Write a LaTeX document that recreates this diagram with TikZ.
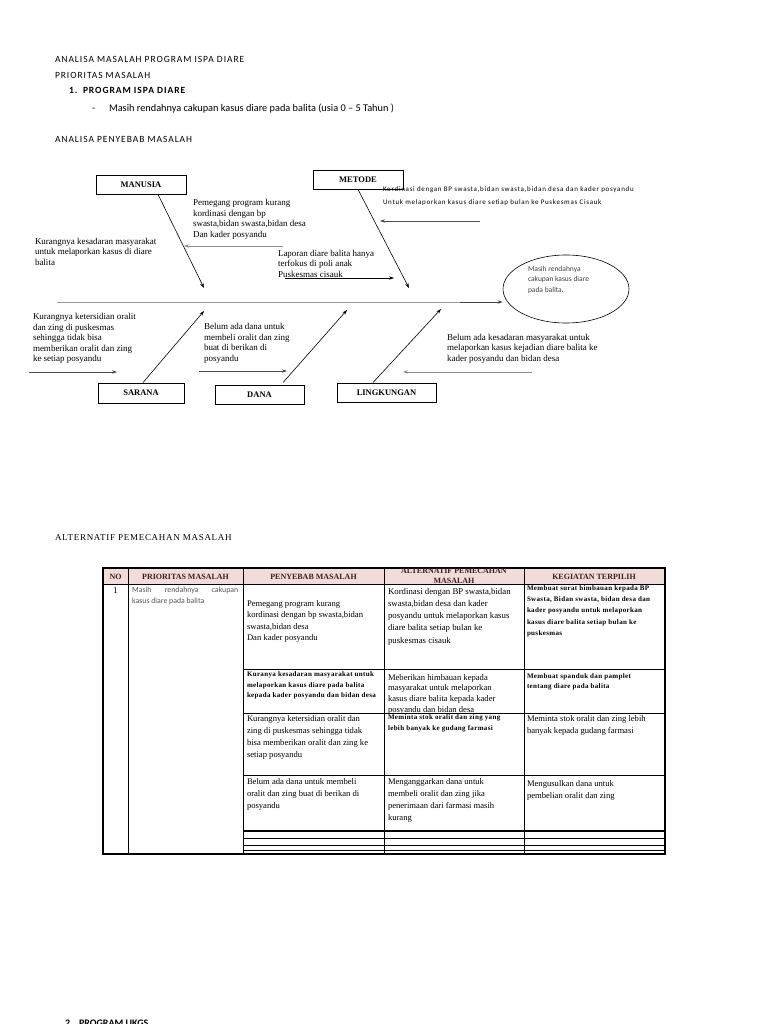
\documentclass[tikz,border=0pt]{standalone}
\usepackage{fontspec}
\setmainfont{Liberation Serif}
\newfontfamily\carl{Carlito}
\newfontfamily\carlsp[LetterSpace=10]{Carlito}
\newfontfamily\carlsmall[LetterSpace=10]{Carlito}
\newfontfamily\serifsp[LetterSpace=8]{Liberation Serif}
\newfontfamily\boldsp[LetterSpace=5]{Liberation Serif}
\usetikzlibrary{shapes.geometric,arrows.meta}
\definecolor{hdrpink}{HTML}{F2DBDB}
\definecolor{hdrtext}{HTML}{3F1D1D}
\definecolor{softgray}{HTML}{555555}
\begin{document}
\begin{tikzpicture}[x=1pt,y=-1pt,
  txt/.style={anchor=base west, inner sep=0pt, outer sep=0pt, align=left},
  txtm/.style={anchor=north west, inner sep=0pt, outer sep=0pt, align=left},
  head/.style={txt, font=\carlsp\fontsize{9.5}{11}\selectfont},
  fish/.style={txtm, font=\fontsize{9}{10.6}\selectfont},
  fbox/.style={draw, line width=0.9pt, inner sep=0pt, font=\bfseries\fontsize{8.5}{10}\selectfont},
  arr/.style={-{Stealth[length=5pt,width=3.4pt]}, line width=0.6pt},
  harr/.style={arr, draw=black!70},
  hdr/.style={inner sep=0pt, anchor=base, font=\bfseries\fontsize{8}{9.5}\selectfont, text=hdrtext, align=center},
  cell/.style={txtm, font=\fontsize{8.6}{11.4}\selectfont},
  cellb/.style={txtm, font=\boldsp\bfseries\fontsize{7}{10.8}\selectfont}]
\useasboundingbox (0,0) rectangle (768,1024);
\clip (0,0) rectangle (768,1024);
\fill[white] (0,0) rectangle (768,1024);

% ---------- headings ----------
\node[head] (t1) at (55,63) {ANALISA MASALAH PROGRAM ISPA DIARE};
\node[head] (t2) at (55,78.5) {PRIORITAS MASALAH};
\node[head, font=\carlsp\bfseries\fontsize{9.5}{11}\selectfont] (t3a) at (69,93.5) {1.};
\node[head, font=\carlsp\bfseries\fontsize{9.5}{11}\selectfont] (t3b) at (83,93.5) {PROGRAM ISPA DIARE};
\node[txt, font=\carl\fontsize{10.3}{12}\selectfont] (t4a) at (92,111.5) {-};
\node[txt, font=\carl\fontsize{10.3}{12}\selectfont] (t4b) at (109,111.5) {Masih rendahnya cakupan kasus diare pada balita (usia 0 – 5 Tahun )};
\node[head] (t5) at (55,143) {ANALISA PENYEBAB MASALAH};

% ---------- fishbone ----------
\node[txtm, font=\carlsmall\fontsize{7}{13.4}\selectfont] (kord) at (383,186.6) {Kordinasi dengan BP swasta,bidan swasta,bidan desa dan kader posyandu\\Untuk melaporkan kasus diare setiap bulan ke Puskesmas Cisauk};

\node[fbox, minimum width=90pt, minimum height=19pt] (man) at (141,184.5) {MANUSIA};
\node[fbox, minimum width=90pt, minimum height=19pt] (met) at (358,179.5) {METODE};
\node[fbox, minimum width=86pt, minimum height=20pt] (sar) at (141,393) {SARANA};
\node[fbox, minimum width=89pt, minimum height=19pt] (dana) at (259.5,394.5) {DANA};
\node[fbox, minimum width=99pt, minimum height=19pt] (ling) at (386.5,392.5) {LINGKUNGAN};

\node[draw, ellipse, line width=0.6pt, minimum width=126pt, minimum height=68pt] (eff) at (566,289) {};
\node[txtm, font=\carl\fontsize{7.5}{10.5}\selectfont, text=black!75] (efftxt) at (528,266.2) {Masih rendahnya\\cakupan kasus diare\\pada balita.};

\node[fish] (c1) at (193,199.3) {Pemegang program kurang\\kordinasi dengan bp\\swasta,bidan swasta,bidan desa\\Dan kader posyandu};
\node[fish] (c2) at (35,237.8) {Kurangnya kesadaran masyarakat\\untuk melaporkan kasus di diare\\balita};
\node[fish] (c3) at (278,249.8) {Laporan diare balita hanya\\terfokus di poli anak\\Puskesmas cisauk};
\node[fish] (c4) at (33,313.3) {Kurangnya ketersidian oralit\\dan zing di puskesmas\\sehingga tidak bisa\\memberikan oralit dan zing\\ke setiap posyandu};
\node[fish] (c5) at (204,323.3) {Belum ada dana untuk\\membeli oralit dan zing\\buat di berikan di\\posyandu};
\node[fish] (c6) at (447,333.8) {Belum ada kesadaran masyarakat untuk\\melaporkan kasus kejadian diare balita ke\\kader posyandu dan bidan desa};

% spine
\coordinate (sp0) at (57,302);
\coordinate (sp1) at (460,302);
\draw[line width=0.8pt, black!40] (sp0) -- (sp1);
\draw[arr, line width=0.8pt, black!75] (sp1) -- (sp1 -| eff.west);

% bones
\coordinate (manT) at (204,288);
\coordinate (metT) at (409,288);
\coordinate (sarT) at (204,311);
\coordinate (danaT) at (347,310);
\coordinate (lingT) at (441,309);
\draw[arr] ([xshift=17pt]man.south) -- (manT);
\draw[arr] (met.south) -- (metT);
\draw[arr] ([xshift=2pt]sar.north) -- (sarT);
\draw[arr] ([xshift=23.5pt,yshift=2pt]dana.north) -- (danaT);
\draw[arr] ([xshift=-13.5pt]ling.north) -- (lingT);

% sub-cause arrows
\coordinate (h1s) at (283,246); \coordinate (h1e) at (184,246);
\coordinate (h2s) at (480,221); \coordinate (h2e) at (380,221);
\coordinate (h3s) at (285,278); \coordinate (h3e) at (394,278);
\coordinate (h4s) at (29,372);  \coordinate (h4e) at (117,372);
\coordinate (h5s) at (199,371); \coordinate (h5e) at (287,371);
\coordinate (h6s) at (532,372); \coordinate (h6e) at (403,372);
\draw[arr, black!45] (h1s) -- (h1e);
\draw[harr] (h2s) -- (h2e);
\draw[arr] (h3s) -- (h3e);
\draw[harr] (h4s) -- (h4e);
\draw[harr] (h5s) -- (h5e);
\draw[arr, black!45] (h6s) -- (h6e);

% ---------- table ----------
\node[txt, font=\serifsp\fontsize{9}{10}\selectfont] (t6) at (55,540) {ALTERNATIF PEMECAHAN MASALAH};

\fill[hdrpink] (103,568) rectangle (665,584);
\foreach \x in {128,243,384,524} \draw[line width=0.8pt] (\x,568) -- (\x,854);
\foreach \y in {669,713,775,838,845,850} \draw[line width=0.6pt] (243,\y) -- (665,\y);
\draw[line width=1.1pt] (243,831) -- (665,831);
\draw[line width=1pt] (103,584) -- (665,584);
\draw[line width=1.2pt] (103,568) rectangle (665,854);

\node[hdr] (hd1) at (115.5,579) {NO};
\node[hdr] (hd2) at (185.5,579) {PRIORITAS MASALAH};
\node[hdr] (hd3) at (313.5,579) {PENYEBAB MASALAH};
\node[hdr, anchor=center] (hd4) at (454,576) {ALTERNATIF PEMECAHAN\\MASALAH};
\node[hdr] (hd5) at (594,579) {KEGIATAN TERPILIH};

\node[txt, font=\fontsize{9}{11}\selectfont] (no1) at (113,593) {1};
\node[anchor=base west, inner sep=0pt, text width=106pt, align=justify, font=\carl\fontsize{7.8}{10.5}\selectfont, text=softgray] (pr1) at (132,592.5) {Masih rendahnya cakupan\linebreak kasus diare pada balita};

\node[cell] (r1c3) at (247,600.6) {Pemegang program kurang\\kordinasi dengan bp swasta,bidan\\swasta,bidan desa\\Dan kader posyandu};
\node[cell, font=\fontsize{8.8}{12.3}\selectfont] (r1c4) at (388,587.9) {Kordinasi dengan BP swasta,bidan\\swasta,bidan desa dan kader\\posyandu untuk melaporkan kasus\\diare balita setiap bulan ke\\puskesmas cisauk};
\node[cellb, font=\boldsp\bfseries\fontsize{7}{11.2}\selectfont] (r1c5) at (527,585.6) {Membuat surat himbauan kepada BP\\Swasta, Bidan swasta, bidan desa dan\\kader posyandu untuk melaporkan\\kasus diare balita setiap bulan ke\\puskesmas};

\node[cellb] (r2c3) at (247,671.5) {Kuranya kesadaran masyarakat untuk\\melaporkan kasus diare pada balita\\kepada kader posyandu dan bidan desa};
\node[cell, font=\fontsize{8.6}{10.8}\selectfont] (r2c4) at (388,674.1) {Meberikan himbauan kepada\\masyarakat untuk melaporkan\\kasus diare balita kepada kader\\posyandu dan bidan desa};
\node[cellb] (r2c5) at (527,673.2) {Membuat spanduk dan pamplet\\tentang diare pada balita};

\node[cell, font=\fontsize{8.6}{12}\selectfont] (r3c3) at (247,715.6) {Kurangnya ketersidian oralit dan\\zing di puskesmas sehingga tidak\\bisa memberikan oralit dan zing ke\\setiap posyandu};
\node[cellb] (r3c4) at (388,714.5) {Meminta stok oralit dan zing yang\\lebih banyak ke gudang farmasi};
\node[cell, font=\fontsize{8.6}{12}\selectfont] (r3c5) at (527,715.1) {Meminta stok oralit dan zing lebih\\banyak kepada gudang farmasi};

\node[cell, font=\fontsize{8.6}{12}\selectfont] (r4c3) at (247,778.1) {Belum ada dana untuk membeli\\oralit dan zing buat di berikan di\\posyandu};
\node[cell, font=\fontsize{8.6}{12}\selectfont] (r4c4) at (388,778.1) {Menganggarkan dana untuk\\membeli oralit dan zing jika\\penerimaan dari farmasi masih\\kurang};
\node[cell, font=\fontsize{8.6}{12}\selectfont] (r4c5) at (527,780.1) {Mengusulkan dana untuk\\pembelian oralit dan zing};

% ---------- next section (cut off) ----------
\node[txt, font=\carl\bfseries\fontsize{10}{12}\selectfont] (u1) at (65,1026) {2.};
\node[txt, font=\carl\bfseries\fontsize{10}{12}\selectfont] (u2) at (79,1026) {PROGRAM UKGS};
\end{tikzpicture}
\end{document}
